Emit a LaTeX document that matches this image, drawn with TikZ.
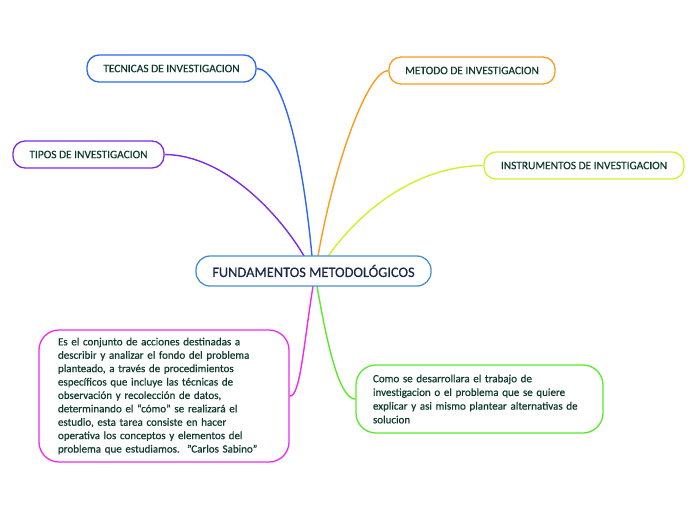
\documentclass[tikz,border=0pt]{standalone}
\usepackage{fontspec}
\setmainfont{Carlito}[FakeBold=0.5]
\definecolor{txtgreen}{HTML}{0E3B2E}
\definecolor{txtnavy}{HTML}{1B2A4A}
\definecolor{cblue}{HTML}{2F66F5}
\definecolor{cpurple}{HTML}{7B2BEA}
\definecolor{corange}{HTML}{FF9A1C}
\definecolor{cyellow}{HTML}{D2F02A}
\definecolor{cpink}{HTML}{EE2BEE}
\definecolor{cgreen}{HTML}{5AEA2A}
\definecolor{cmain}{HTML}{4A8ED0}
\tikzset{
  branch/.style={draw, line width=1.3pt, rounded corners=12pt, minimum height=27pt, inner sep=0pt, font=\fontsize{11.4}{13}\selectfont, text=txtgreen, fill=white},
  rootbox/.style={draw=cmain, line width=1.3pt, rounded corners=14pt, minimum height=30pt, inner sep=0pt, font=\fontsize{14.4}{16}\selectfont, text=txtnavy, fill=white},
  notebox/.style={draw, line width=1.3pt, rounded corners=20pt, inner ysep=6pt, align=left, font=\fontsize{11}{13.4}\selectfont, text=txtgreen, fill=white},
  conn/.style={line width=1.4pt}
}
\begin{document}
\begin{tikzpicture}[x=1pt,y=-1pt]
\useasboundingbox (0,0) rectangle (696,520);
% anchor coordinates on the root node
\coordinate (rPu) at (304,256);
\coordinate (rBl) at (312,256);
\coordinate (rOr) at (318,256);
\coordinate (rYe) at (328,256);
\coordinate (rPi) at (313,286);
\coordinate (rGr) at (317,286);

\node[branch, draw=cblue, minimum width=169pt] (tec) at (171.5,68.5) {TECNICAS DE INVESTIGACION};
\node[branch, draw=cpurple, minimum width=151pt] (tip) at (88.5,154.5) {TIPOS DE INVESTIGACION};
\node[branch, draw=corange, minimum width=166pt] (met) at (472,70.5) {METODO DE INVESTIGACION};
\node[branch, draw=cyellow, minimum width=200pt] (ins) at (584,165.5) {INSTRUMENTOS DE INVESTIGACION};

\node[notebox, draw=cpink, inner xsep=19pt, text width=212pt, minimum height=132pt] (def) at (164,396) {Es el conjunto de acciones destinadas a\\describir y analizar el fondo del problema\\planteado, a través de procedimientos\\específicos que incluye las técnicas de\\observación y recolección de datos,\\determinando el “cómo” se realizará el\\estudio, esta tarea consiste en hacer\\operativa los conceptos y elementos del\\problema que estudiamos.\ \ "Carlos Sabino"};
\node[notebox, draw=cgreen, inner xsep=17pt, text width=213pt, minimum height=68pt, font=\fontsize{11}{13.7}\selectfont] (com) at (479.5,399) {Como se desarrollara el trabajo de\\investigacion o el problema que se quiere\\explicar y asi mismo plantear alternativas de\\solucion};

% connectors
\draw[conn, cblue] (tec.east) .. controls (282,69) and (302,150) .. (rBl);
\draw[conn, cpurple] (tip.east) .. controls (225,155) and (280,215) .. (rPu);
\draw[conn, corange] (met.west) .. controls (368,71) and (335,160) .. (rOr);
\draw[conn, cyellow] (ins.west) .. controls (420,166) and (365,205) .. (rYe);
\draw[conn, cpink] (def.east) .. controls (300,397) and (303,350) .. (rPi);
\draw[conn, cgreen] (com.west) .. controls (340,399) and (328,350) .. (rGr);

\node[rootbox, minimum width=235pt] (root) at (313.5,271) {FUNDAMENTOS METODOLÓGICOS};
\end{tikzpicture}
\end{document}
